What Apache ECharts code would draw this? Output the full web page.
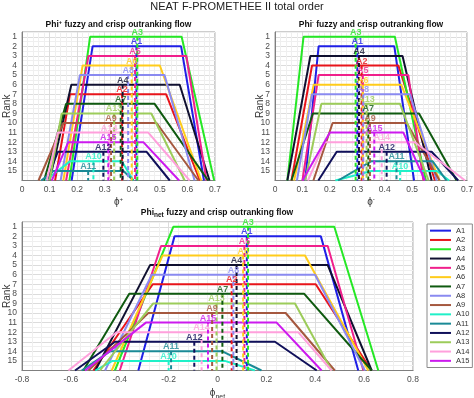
<!DOCTYPE html>
<html>
<head>
<meta charset="utf-8">
<script src="https://cdn.jsdelivr.net/npm/echarts@6/dist/echarts.min.js"></script>
<style>
  html, body { margin: 0; padding: 0; background: #fff; }
  #orderChart { width: 474px; height: 398px; }
</style>
</head>
<body>
<div id="orderChart"></div>
<script>
const names = ['A1', 'A2', 'A3', 'A4', 'A5', 'A6', 'A7', 'A8', 'A9', 'A10', 'A11', 'A12', 'A13', 'A14', 'A15']
const colors = ['#1f1fe6', '#e8141b', '#25e825', '#101030', '#f0208c', '#ffcc1a', '#0f5a10', '#8a8af0',
  '#a5583f', '#20f0c8', '#1a8a96', '#10105a', '#9ccc5a', '#ffa0dc', '#cc1aee']
const rankTicks = [1, 2, 3, 4, 5, 6, 7, 8, 9, 10, 11, 12, 13, 14, 15]
const footRank = 16

// phi+ : rank, fuzzy trapezoid [left foot, left shoulder, right shoulder, right foot], crisp value
const plusRank = [2, 7, 1, 6, 3, 4, 8, 5, 10, 14, 15, 13, 9, 11, 12]
const plusFuzzy = [
  [0.18, 0.256, 0.577, 0.66], [0.12, 0.174, 0.523, 0.645], [0.172, 0.247, 0.579, 0.697],
  [0.10, 0.179, 0.572, 0.68], [0.16, 0.241, 0.596, 0.669], [0.15, 0.22, 0.50, 0.65],
  [0.08, 0.16, 0.481, 0.675], [0.14, 0.21, 0.517, 0.626], [0.06, 0.15, 0.488, 0.64],
  [0.085, 0.174, 0.362, 0.404], [0.07, 0.114, 0.368, 0.404], [0.09, 0.13, 0.452, 0.536],
  [0.10, 0.144, 0.469, 0.59], [0.09, 0.13, 0.458, 0.608], [0.108, 0.168, 0.44, 0.57]
]
const plusCrisp = [0.415, 0.363, 0.418, 0.365, 0.41, 0.398, 0.358, 0.385, 0.323, 0.259, 0.24, 0.295, 0.334, 0.316, 0.313]

// phi-
const minusRank = [2, 4, 1, 3, 5, 6, 9, 7, 10, 15, 14, 13, 8, 12, 11]
const minusFuzzy = [
  [0.11, 0.159, 0.435, 0.507], [0.06, 0.135, 0.45, 0.583], [0.045, 0.104, 0.437, 0.55],
  [0.045, 0.129, 0.465, 0.571], [0.10, 0.159, 0.486, 0.541], [0.07, 0.141, 0.46, 0.60],
  [0.06, 0.138, 0.525, 0.662], [0.08, 0.135, 0.492, 0.59], [0.14, 0.21, 0.48, 0.60],
  [0.22, 0.352, 0.59, 0.635], [0.23, 0.35, 0.575, 0.625], [0.158, 0.225, 0.571, 0.668],
  [0.11, 0.169, 0.456, 0.56], [0.12, 0.182, 0.51, 0.693], [0.10, 0.20, 0.468, 0.547]
]
const minusCrisp = [0.3, 0.316, 0.294, 0.306, 0.32, 0.32, 0.34, 0.322, 0.346, 0.456, 0.443, 0.407, 0.334, 0.389, 0.362]

// phi net
const netRank = [2, 7, 1, 5, 3, 4, 8, 6, 10, 15, 14, 13, 9, 12, 11]
const netFuzzy = [
  [-0.324, -0.176, 0.423, 0.576], [-0.508, -0.265, 0.402, 0.63], [-0.42, -0.181, 0.478, 0.658],
  [-0.5, -0.276, 0.451, 0.631], [-0.40, -0.231, 0.451, 0.597], [-0.433, -0.225, 0.358, 0.617],
  [-0.549, -0.361, 0.355, 0.631], [-0.46, -0.269, 0.399, 0.603], [-0.528, -0.283, 0.279, 0.48],
  [-0.5, -0.43, 0.03, 0.153], [-0.556, -0.44, 0.02, 0.18], [-0.583, -0.419, 0.235, 0.406],
  [-0.481, -0.263, 0.317, 0.467], [-0.61, -0.413, 0.33, 0.467], [-0.542, -0.293, 0.242, 0.426]
]
const netCrisp = [0.12, 0.058, 0.125, 0.078, 0.11, 0.105, 0.02, 0.065, -0.022, -0.2, -0.19, -0.095, -0.004, -0.065, -0.039]

const font = 'Liberation Sans, Arial, sans-serif'

function panelSeries(idx, rank, fuzzy, crisp) {
  let out = []
  names.forEach((n, i) => {
    const [a, b, c, d] = fuzzy[i]
    out.push({
      name: n, type: 'line', xAxisIndex: idx, yAxisIndex: idx,
      data: [[a, footRank], [b, rank[i]], [c, rank[i]], [d, footRank]],
      symbol: 'none', color: colors[i], lineStyle: { width: 2, color: colors[i] }, z: 2,
    })
  })
  names.forEach((n, i) => {
    out.push({
      name: n + ' crisp', type: 'line', xAxisIndex: idx, yAxisIndex: idx,
      data: [[crisp[i], rank[i]], [crisp[i], footRank]],
      symbol: 'none', lineStyle: { width: 2, color: colors[i], type: [4, 3] }, z: 3,
    })
  })
  // alternative labels above the crisp value
  out.push({
    type: 'scatter', xAxisIndex: idx, yAxisIndex: idx, symbolSize: 0,
    itemStyle: { color: 'transparent' }, z: 4,
    data: names.map((n, i) => ({ value: [crisp[i], rank[i]], name: n, label: { color: colors[i] } })),
    label: { show: true, position: 'top', distance: 0, formatter: '{b}', fontWeight: 'bold', fontSize: 9, fontFamily: font },
  })
  return out
}

function makeX(idx, min, max, interval, name) {
  return {
    gridIndex: idx, type: 'value', min: min, max: max, interval: interval,
    name: name, nameLocation: 'middle', nameGap: 16, nameMoveOverlap: false,
    nameTextStyle: {
      color: '#333', fontSize: 10, fontFamily: font,
      rich: { sup: { fontSize: 6, color: '#333', padding: [0, 0, 6, 0] }, sub: { fontSize: 7, color: '#333', padding: [7, 0, 0, 0] } },
    },
    axisLine: { show: true, onZero: false, lineStyle: { color: '#7f7f7f' } },
    axisTick: { show: false },
    axisLabel: { color: '#4d4d4d', fontSize: 8.5, margin: 5, fontFamily: font },
    splitLine: { show: true, lineStyle: { color: '#dcdcdc', width: 1 } },
    minorTick: { show: false, splitNumber: 5 },
    minorSplitLine: { show: true, lineStyle: { color: '#efefef', width: 1 } },
  }
}

function makeY(idx) {
  return {
    gridIndex: idx, type: 'value', inverse: true, min: 0.5, max: footRank, interval: 0.5,
    name: 'Rank', nameLocation: 'middle', nameGap: 10, nameMoveOverlap: false,
    nameTextStyle: { color: '#333', fontSize: 10, fontFamily: font },
    axisLine: { show: true, onZero: false, lineStyle: { color: '#7f7f7f' } },
    axisTick: { show: false },
    axisLabel: {
      color: '#4d4d4d', fontSize: 8.5, margin: 5, fontFamily: font,
      formatter: v => (rankTicks.indexOf(v) >= 0 ? String(v) : ''),
    },
    splitLine: { show: true, lineStyle: { color: ['#efefef', '#dcdcdc'], width: 1 } },
  }
}

const gridBox = { show: true, borderColor: '#9a9a9a', borderWidth: 1, backgroundColor: '#fff', containLabel: false, outerBoundsMode: 'none' }

let myChart = echarts.init(document.getElementById('orderChart'), null, { renderer: 'canvas' })
let option = {
  animation: false,
  backgroundColor: '#fff',
  textStyle: { fontFamily: font },
  grid: [
    Object.assign({ left: 22, top: 32, width: 193, height: 148.5 }, gridBox),
    Object.assign({ left: 275, top: 32, width: 192, height: 148.5 }, gridBox),
    Object.assign({ left: 22, top: 222, width: 391, height: 148.5 }, gridBox),
  ],
  xAxis: [
    makeX(0, 0, 0.7, 0.1, '\u03D5{sup|+}'),
    makeX(1, 0, 0.7, 0.1, '\u03D5{sup|-}'),
    makeX(2, -0.8, 0.8, 0.2, '\u03D5{sub|net}'),
  ],
  yAxis: [makeY(0), makeY(1), makeY(2)],
  legend: {
    orient: 'vertical', left: 427, top: 224,
    data: names, icon: 'rect', itemWidth: 21, itemHeight: 2, itemGap: 0,
    backgroundColor: '#fff', borderColor: '#8a8a8a', borderWidth: 1, borderRadius: 0,
    padding: [2, 3, 2, 3],
    textStyle: { fontSize: 7.5, color: '#333', lineHeight: 9.3, fontFamily: font },
  },
  graphic: [
    {
      type: 'text', x: 237, y: 1,
      style: { text: 'NEAT F-PROMETHEE II total order', textAlign: 'center', fill: '#222', font: '11px ' + font },
    },
    {
      type: 'text', x: 118.5, y: 19,
      style: {
        text: 'Phi{sup|+} fuzzy and crisp outranking flow', textAlign: 'center', fill: '#111',
        font: 'bold 8.5px ' + font,
        rich: { sup: { fontSize: 5.5, fontWeight: 'bold', padding: [0, 0, 5, 0] } },
      },
    },
    {
      type: 'text', x: 371, y: 19,
      style: {
        text: 'Phi{sup|-} fuzzy and crisp outranking flow', textAlign: 'center', fill: '#111',
        font: 'bold 8.5px ' + font,
        rich: { sup: { fontSize: 5.5, fontWeight: 'bold', padding: [0, 0, 5, 0] } },
      },
    },
    {
      type: 'text', x: 217, y: 206,
      style: {
        text: 'Phi{sub|net} fuzzy and crisp outranking flow', textAlign: 'center', fill: '#111',
        font: 'bold 8.5px ' + font,
        rich: { sub: { fontSize: 6.5, fontWeight: 'bold', padding: [6, 0, 0, 0] } },
      },
    },
  ],
  series: [].concat(
    panelSeries(0, plusRank, plusFuzzy, plusCrisp),
    panelSeries(1, minusRank, minusFuzzy, minusCrisp),
    panelSeries(2, netRank, netFuzzy, netCrisp)
  ),
}

myChart.setOption(option)
</script>
</body>
</html>
